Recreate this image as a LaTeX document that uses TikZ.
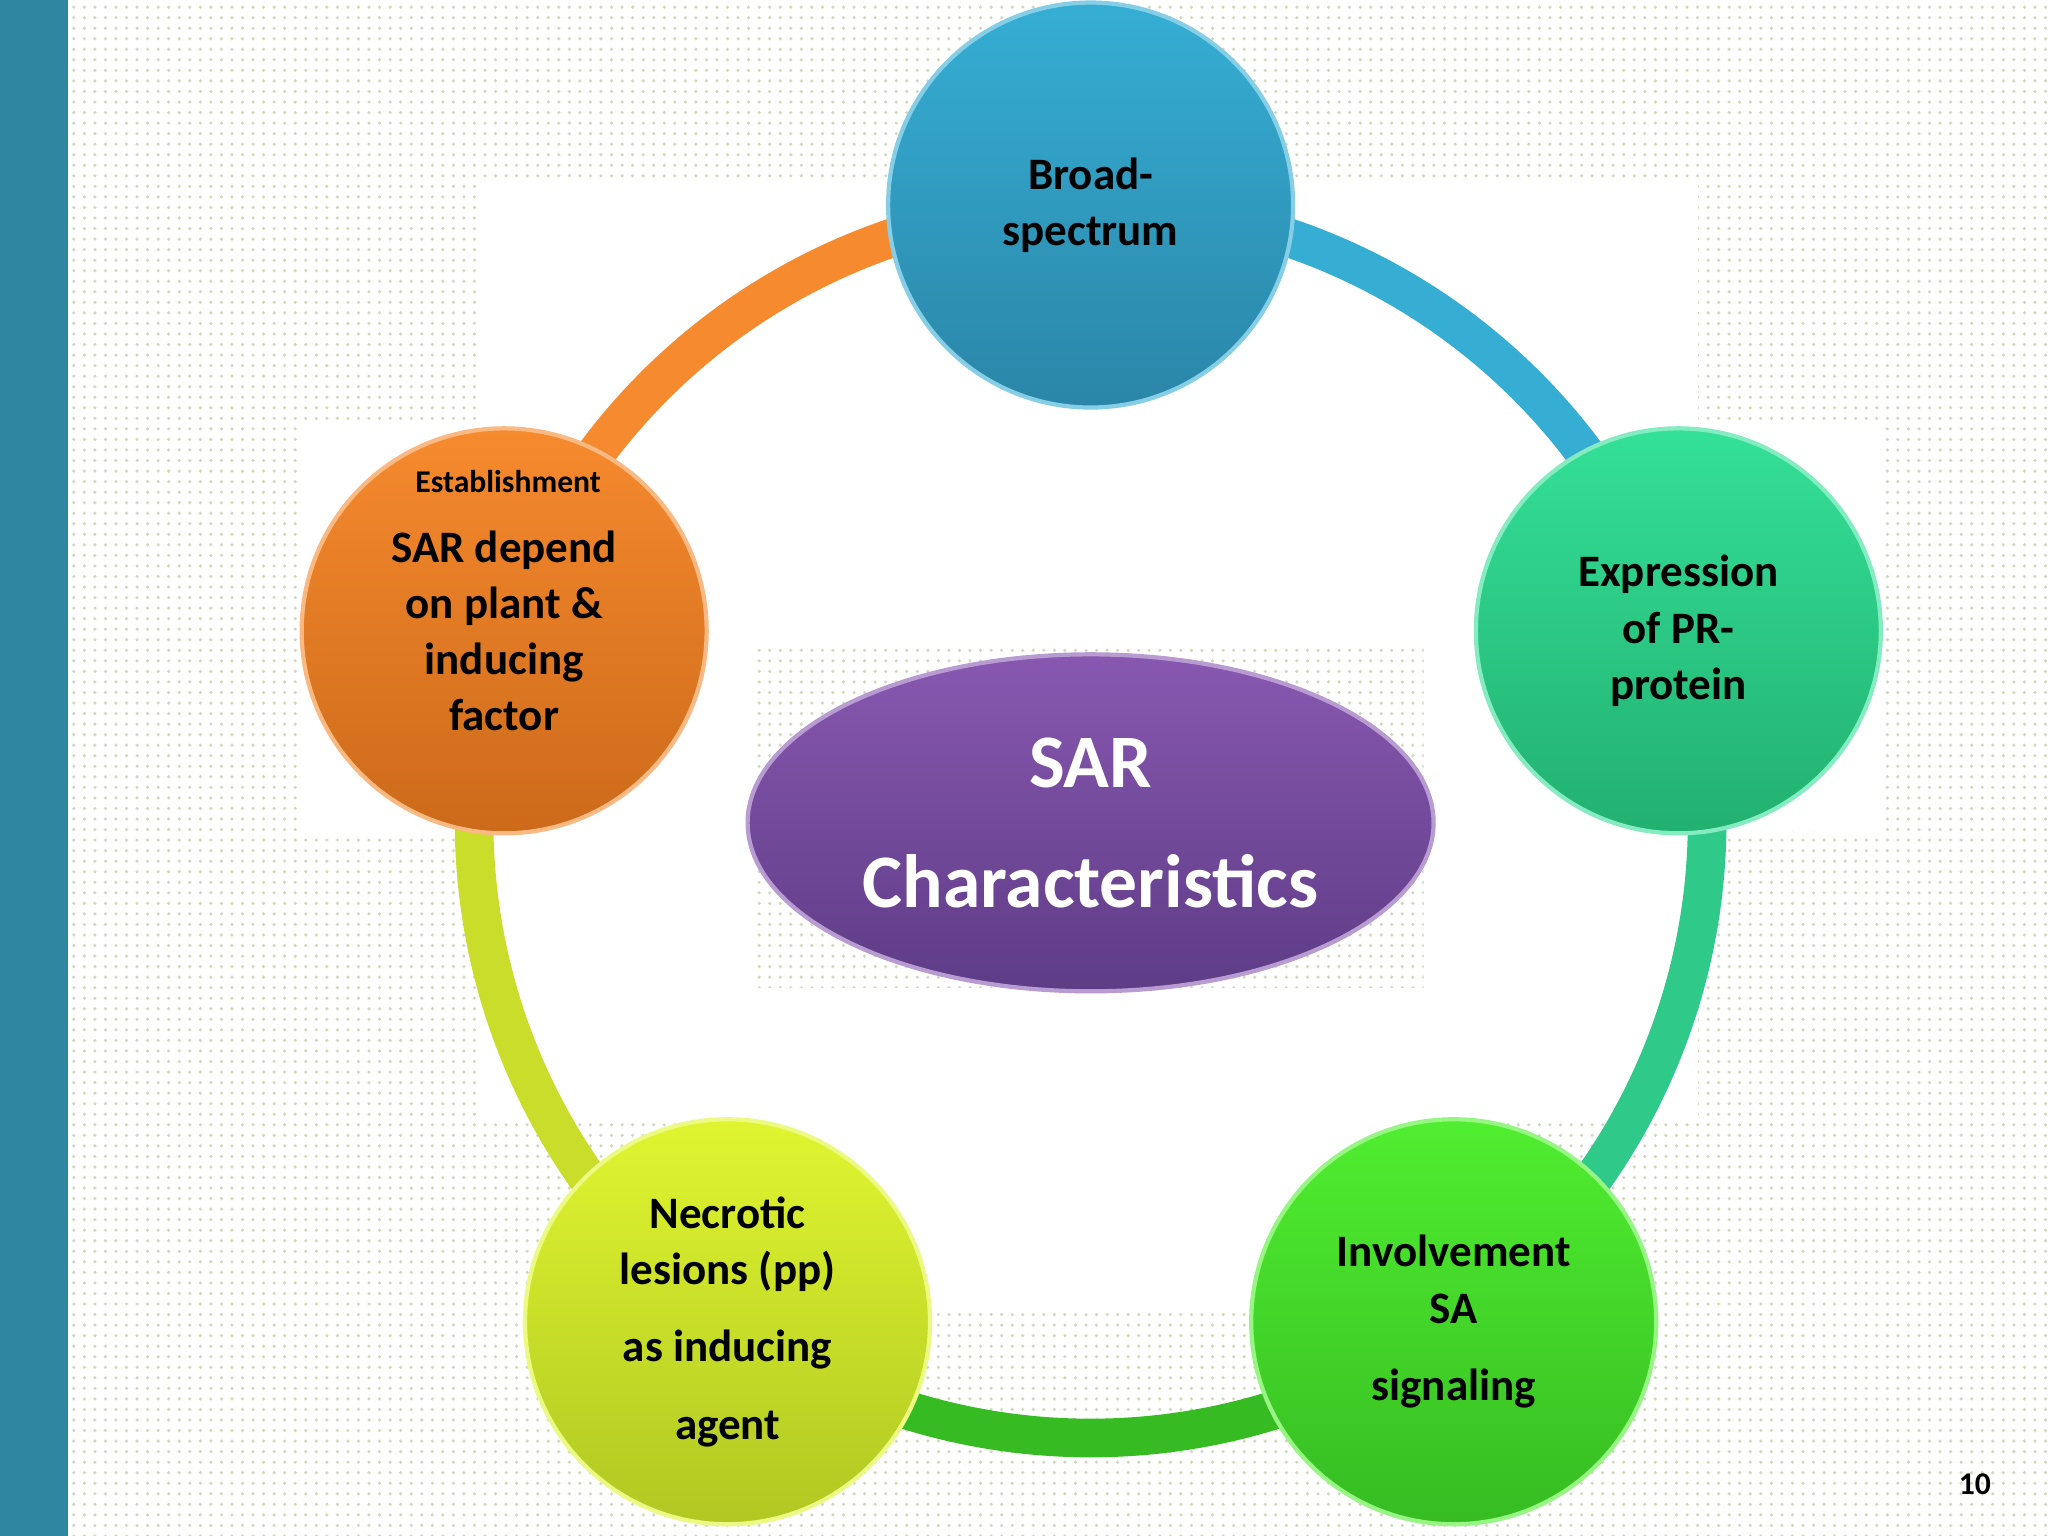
\documentclass[tikz,border=0pt]{standalone}
\usepackage{fontspec}
\setmainfont{Carlito}
\usetikzlibrary{patterns,shapes.geometric}
\definecolor{bar}{HTML}{2E86A0}
\definecolor{dotc}{HTML}{D2D8C0}
\definecolor{cblue}{HTML}{36AED4}
\definecolor{cblued}{HTML}{2A86A8}
\definecolor{cteal}{HTML}{34E098}
\definecolor{cteald}{HTML}{22B070}
\definecolor{cgreen}{HTML}{50EE30}
\definecolor{cgreend}{HTML}{36BC22}
\definecolor{cyel}{HTML}{E0F530}
\definecolor{cyeld}{HTML}{B0C822}
\definecolor{corg}{HTML}{F68A2E}
\definecolor{corgd}{HTML}{CC6A1A}
\definecolor{cpur}{HTML}{8858B0}
\definecolor{cpurd}{HTML}{5E3C86}
\tikzset{
  ball/.style args={#1/#2}{circle,minimum size=4.05cm,inner sep=0pt,draw=#1!60!white,line width=1.2pt,
     top color=#1,bottom color=#2,align=center,font=\bfseries\fontsize{12.8}{16}\selectfont,text=black},
  ringseg/.style={line width=11pt}
}
\begin{document}
\begin{tikzpicture}[x=0.013061cm,y=0.013061cm]
\useasboundingbox (0,0) rectangle (1568,1176);
\fill[white] (0,0) rectangle (1568,1176);
\fill[pattern=dots,pattern color=dotc] (0,0) rectangle (1568,1176);
\fill[white] (370,321) rectangle (1300,1036);
\fill[white] (230,540) rectangle (1440,850);
\fill[white] (575,176) rectangle (1090,680);
\fill[pattern=dots,pattern color=dotc] (575,420) rectangle (1090,680);
\fill[white] (575,420) rectangle (1090,420);
\fill[bar] (0,0) rectangle (52,1176);
\coordinate (c) at (835,547);
\draw[ringseg,cblue] ([shift={(18:472)}]c) arc[start angle=18,end angle=90,radius=472];
\draw[ringseg,cteal!90!black] ([shift={(-54:472)}]c) arc[start angle=-54,end angle=18,radius=472];
\draw[ringseg,cgreend] ([shift={(-126:472)}]c) arc[start angle=-126,end angle=-54,radius=472];
\draw[ringseg,cyel!90!black] ([shift={(162:472)}]c) arc[start angle=162,end angle=234,radius=472];
\draw[ringseg,corg] ([shift={(90:472)}]c) arc[start angle=90,end angle=162,radius=472];
\node[ball=cblue/cblued] (top) at (835,1019) {Broad-\\spectrum};
\node[ball=cteal/cteald] (right) at (1285,693) {Expression\\of PR-\\protein};
\node[ball=cgreen/cgreend] (br) at (1113,164) {Involvement\\SA\\[6pt]signaling};
\node[ball=cyel/cyeld] (bl) at (557,164) {Necrotic\\lesions (pp)\\[6pt]as inducing\\[6pt]agent};
\node[ball=corg/corgd] (left) at (386,693) {};
\node[font=\bfseries\fontsize{9}{11}\selectfont] (est) at (389,807) {Establishment};
\node[align=center,font=\bfseries\fontsize{12.8}{16}\selectfont] (ltxt) at (386,693) {SAR depend\\on plant \&\\inducing\\factor};
\node[ellipse,minimum width=6.86cm,minimum height=3.37cm,top color=cpur,bottom color=cpurd,
  draw=cpur!60!white,line width=1.2pt,text=white,align=center,
  font=\bfseries\fontsize{21.5}{30}\selectfont] (sar) at (835,546) {SAR\\[4pt]Characteristics};
\node[font=\bfseries\fontsize{9}{11}\selectfont] (pg) at (1512,40) {10};
\end{tikzpicture}
\end{document}
